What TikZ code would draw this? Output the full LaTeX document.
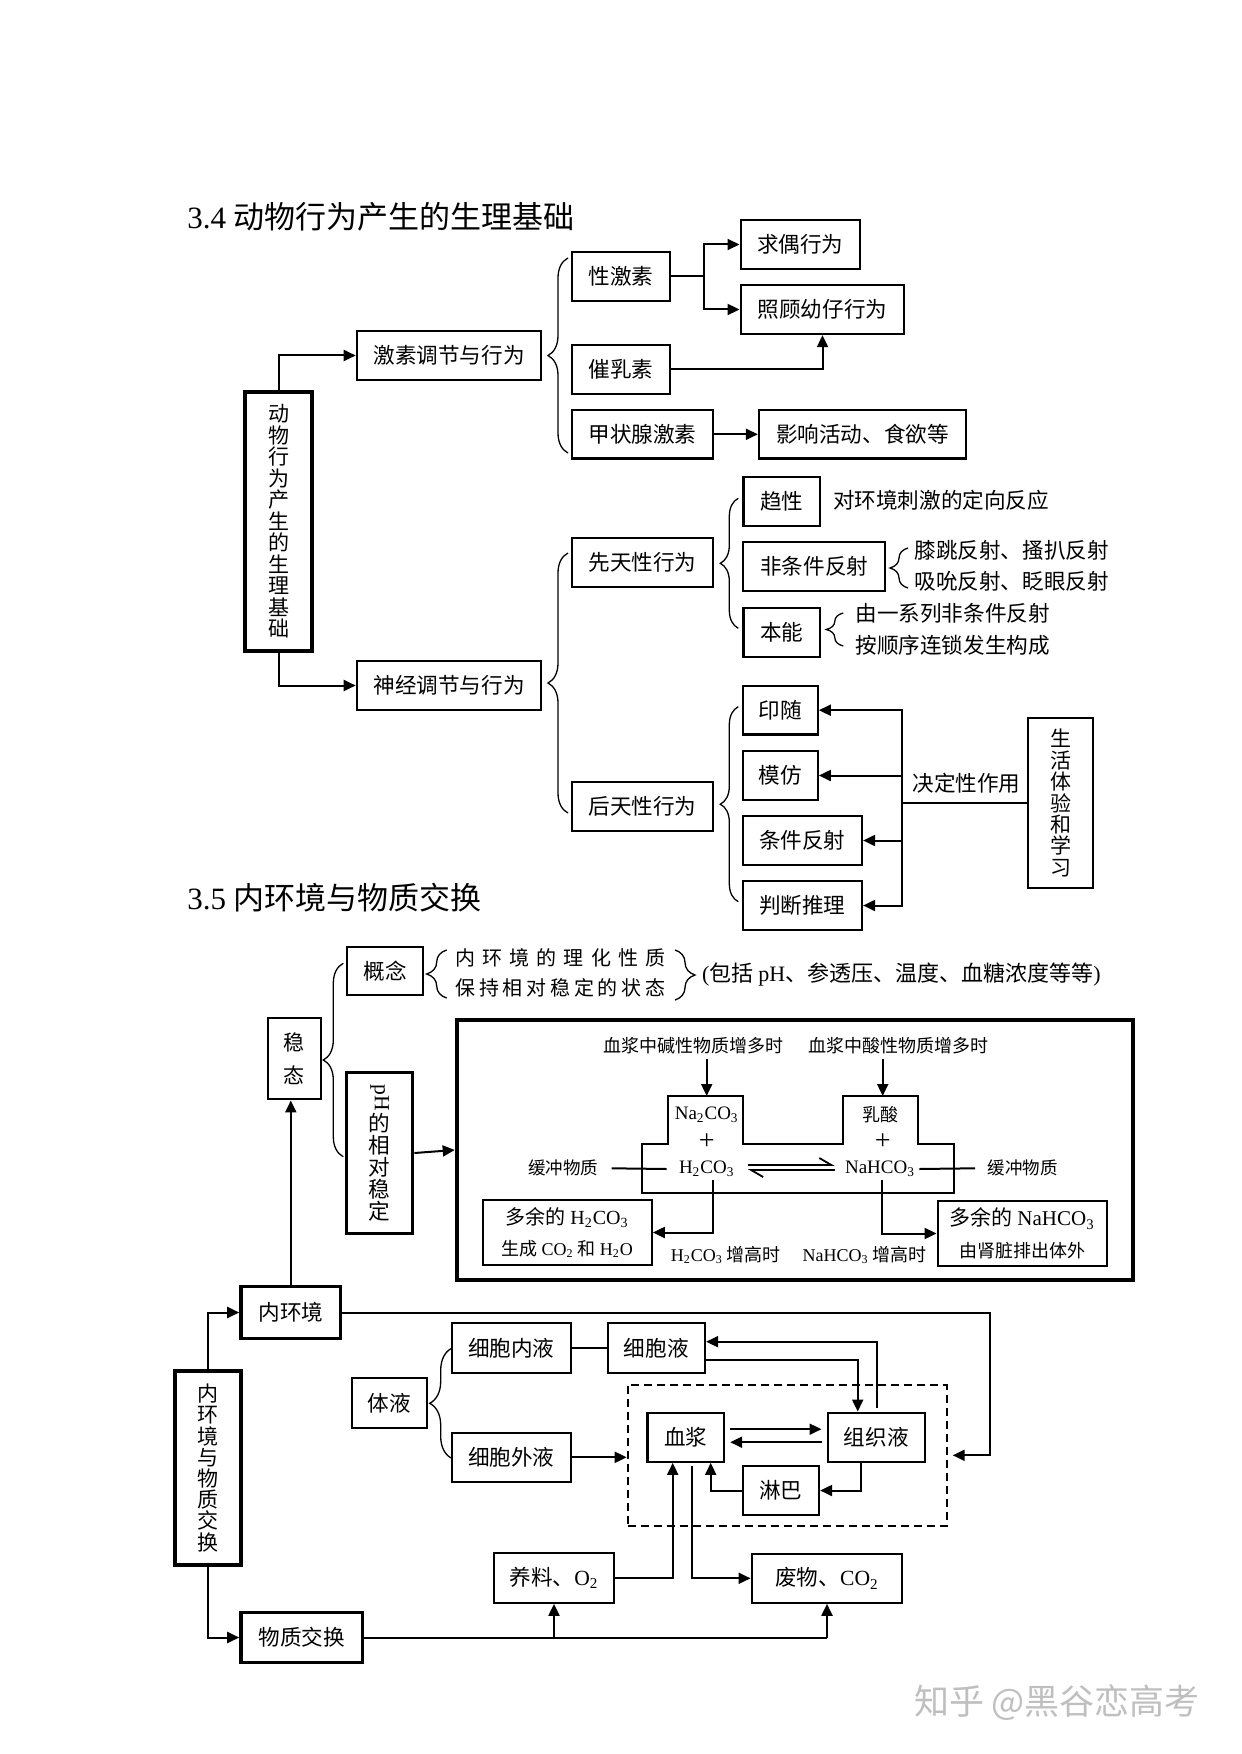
\documentclass[tikz,border=0pt]{standalone}
\usepackage{fontspec}
\setmainfont{Noto Sans CJK SC}
\newfontfamily\tm{Liberation Serif}
\usepackage{graphicx}
\usetikzlibrary{arrows.meta,calc,decorations.pathreplacing}
\newcommand\fsz[1]{\fontsize{#1}{#1}\selectfont}
\newcommand\hcot{{\tm H\textsubscript{2}CO\textsubscript{3}}}
\newcommand\nahcot{{\tm NaHCO\textsubscript{3}}}
\newcommand\nacot{{\tm Na\textsubscript{2}CO\textsubscript{3}}}
\newcommand\cotwo{{\tm CO\textsubscript{2}}}
\newcommand\htwoo{{\tm H\textsubscript{2}O}}
\newcommand\otwo{{\tm O\textsubscript{2}}}
\tikzset{
 box/.style={draw, line width=1.15pt, inner sep=0pt, font=\fsz{10.8}},
 tbox/.style={box, line width=1.75pt},
 wh/.style 2 args={minimum width=#1*0.5pt, minimum height=#2*0.5pt},
 arr/.style={line width=1pt, -{Triangle[length=6pt,width=5.5pt]}},
 ln/.style={line width=1pt},
 cbrace/.style={decorate, decoration={brace, amplitude=#1}, line width=0.65pt},
 txt/.style={inner sep=0pt, font=\fsz{10.8}},
 harp/.style={line width=0.9pt, -{Straight Barb[harpoon,length=6pt,width=7pt]}},
}
\begin{document}
\begin{tikzpicture}[x=0.5pt,y=-0.5pt]
\fill[white] (0,0) rectangle (1241,1754);
\useasboundingbox (0,0) rectangle (1241,1754);

% ---------- 3.4 ----------
\node[anchor=west, inner sep=0pt, font=\fsz{15.5}] (t34) at (187,217) {{\tm 3.4} 动物行为产生的生理基础};

\node[tbox, wh={67}{259}, align=center, font=\fontsize{10.5}{10.75}\selectfont] (root) at (278.5,521.5) {动\\物\\行\\为\\产\\生\\的\\生\\理\\基\\础};
\node[box, wh={184.3}{49}] (horm) at (449,355.5) {激素调节与行为};
\node[box, wh={184.3}{49}] (nerve) at (449,685.5) {神经调节与行为};
\node[box, wh={98.3}{49}] (sexh) at (620.8,276.2) {性激素};
\node[box, wh={98.3}{49}] (prol) at (620.8,369.5) {催乳素};
\node[box, wh={141.6}{48.7}] (thyr) at (642.5,434.3) {甲状腺激素};
\node[box, wh={119.3}{49}] (court) at (800.3,244.5) {求偶行为};
\node[box, wh={163.6}{49}] (care) at (822.5,309.5) {照顾幼仔行为};
\node[box, wh={207}{48.7}] (affect) at (862.5,434.3) {影响活动、食欲等};
\node[box, wh={141.6}{49}] (innate) at (642.5,562.5) {先天性行为};
\node[box, wh={141.6}{49.3}] (learn) at (642.5,806.3) {后天性行为};
\node[box, wh={76.7}{49.3}] (taxis) at (781.7,501.3) {趋性};
\node[box, wh={142}{49}] (uncond) at (814.3,566.2) {非条件反射};
\node[box, wh={76.7}{49}] (inst) at (781.7,632.2) {本能};
\node[box, wh={75}{48.3}] (impr) at (780.2,710.2) {印随};
\node[box, wh={75}{49}] (imit) at (780.2,775.5) {模仿};
\node[box, wh={119.3}{49}] (cond) at (802.3,840.5) {条件反射};
\node[box, wh={119.3}{49}] (judg) at (802.3,905.5) {判断推理};
\node[box, wh={65}{170.6}, align=center, font=\fontsize{10.5}{10.7}\selectfont] (life) at (1060.8,803) {生\\活\\体\\验\\和\\学\\习};

\node[txt, anchor=west] (taxd) at (832.7,500) {对环境刺激的定向反应};
\node[txt, anchor=west] (ur1) at (914,550) {膝跳反射、搔扒反射};
\node[txt, anchor=west] (ur2) at (914,581.7) {吸吮反射、眨眼反射};
\node[txt, anchor=west] (in1) at (855,613.3) {由一系列非条件反射};
\node[txt, anchor=west] (in2) at (855,645) {按顺序连锁发生构成};
\node[txt] (decis) at (966.5,783.3) {决定性作用};

\draw[cbrace=10pt] (568,453) -- (568,258);
\draw[cbrace=10pt] (568,813) -- (568,553);
\draw[cbrace=9pt] (738.3,628.3) -- (738.3,498.3);
\draw[cbrace=9pt] (738.3,901.7) -- (738.3,706.7);
\draw[cbrace=9pt] (908,588) -- (908,548);
\draw[cbrace=8.5pt] (843.3,646) -- (843.3,613);

\draw[arr] (root.north) |- (horm.west);
\draw[arr] (root.south) |- (nerve.west);
\draw[arr] (sexh.east) -- ++(33.3,0) |- (court.west);
\draw[arr] (sexh.east) ++(33.3,0) |- (care.west);
\draw[arr] (prol.east) -| (care.south);
\draw[arr] (thyr.east) -- (affect.west);
\coordinate (jx) at (901.7,803);
\draw[ln] (life.west) -- (jx);
\draw[arr] (jx) |- (impr.east);
\draw[arr] (jx) |- (imit.east);
\draw[arr] (jx) |- (cond.east);
\draw[arr] (jx) |- (judg.east);

% ---------- 3.5 ----------
\node[anchor=west, inner sep=0pt, font=\fsz{15.5}] (t35) at (187,898) {{\tm 3.5} 内环境与物质交换};

\node[box, wh={76.6}{48.3}] (conc) at (385,970.8) {概念};
\draw[cbrace=10pt] (446.7,998) -- (446.7,950);
\node[txt, anchor=west, font=\fsz{10}] (cl1) at (455,958.3) {\makebox[105pt][s]{内\hfill 环\hfill 境\hfill 的\hfill 理\hfill 化\hfill 性\hfill 质}};
\node[txt, anchor=west, font=\fsz{10}] (cl2) at (455,988.3) {\makebox[105pt][s]{保\hfill 持\hfill 相\hfill 对\hfill 稳\hfill 定\hfill 的\hfill 状\hfill 态}};
\draw[cbrace=10pt] (675,950) -- (675,1000);
\node[txt, anchor=west, font=\fsz{11}] (incl) at (701.7,975) {{\tm (}包括 {\tm pH}、参透压、温度、血糖浓度等等{\tm )}};

\node[box, wh={53.3}{81.6}, align=center, font=\fontsize{10.5}{16.6}\selectfont] (stead) at (294.3,1058.5) {稳\\态};
\draw[cbrace=10pt] (343.3,1156.7) -- (343.3,963.3);
\node[tbox, wh={66}{160.6}, align=center, font=\fontsize{10.8}{11}\selectfont] (ph) at (379.7,1153) {\rotatebox{-90}{\tm pH}\\的\\相\\对\\稳\\定};

\node[draw, line width=2pt, wh={676.6}{260}, inner sep=0pt] (big) at (795,1150) {};
\draw[arr] (ph.east) -- (big.west);

\node[txt, font=\fsz{9}] (alk) at (693.3,1046) {血浆中碱性物质增多时};
\node[txt, font=\fsz{9}] (acid) at (898.3,1046) {血浆中酸性物质增多时};
\node[txt, font=\fsz{9.5}] (naco) at (706.7,1115) {\nacot};
\node[txt, font=\fsz{14}] (pl1) at (706.7,1141.7) {\tm +};
\node[txt, font=\fsz{9.5}] (hco) at (706.7,1169) {\hcot};
\node[txt, font=\fsz{9}] (lact) at (880,1115) {乳酸};
\node[txt, font=\fsz{14}] (pl2) at (882.7,1141.7) {\tm +};
\node[txt, font=\fsz{9.5}] (nahco) at (880,1169) {\nahcot};
\node[txt, font=\fsz{8.75}] (bufl) at (563.3,1168.3) {缓冲物质};
\node[txt, font=\fsz{8.75}] (bufr) at (1022.5,1168.3) {缓冲物质};

\draw[ln] (641.7,1193.3) -- (641.7,1144.3) -- (668.3,1144.3) -- (668.3,1096) -- (743.3,1096) -- (743.3,1144.3) -- (843.3,1144.3) -- (843.3,1096) -- (917.7,1096) -- (917.7,1144.3) -- (954,1144.3) -- (954,1193.3) -- cycle;
\coordinate (tabL) at (706.7,1096);
\coordinate (tabR) at (882.7,1096);
\draw[arr] ($(alk.south -| tabL)+(0,4)$) -- (tabL);
\draw[arr] ($(acid.south -| tabR)+(0,4)$) -- (tabR);
\draw[ln] ($(bufl.east)+(13,0)$) -- ($(hco.west)+(-12,0)$);
\draw[ln] ($(nahco.east)+(4,0)$) -- ($(bufr.west)+(-12,0)$);
\draw[harp] ($(hco.east)+(13,-4)$) -- ($(nahco.west)+(-10,-4)$);
\draw[harp] ($(nahco.west)+(-10,1)$) -- ($(hco.east)+(13,1)$);

\node[box, wh={169}{65}, align=center, font=\fontsize{10}{15.5}\selectfont] (exh) at (567.2,1232.5) {多余的 \hcot\\{\fsz{9}生成 \cotwo{} 和 \htwoo}};
\node[box, wh={169}{65}, align=center, font=\fontsize{10.5}{15.8}\selectfont] (exn) at (1022.2,1233.5) {多余的 \nahcot\\{\fsz{9}由肾脏排出体外}};
\draw[arr] ($(hco.south)+(6,3)$) |- (exh.east);
\draw[arr] ($(nahco.south)+(1.7,3)$) |- (exn.west);
\node[txt, font=\fsz{9}] (hinc) at (725.8,1255) {\hcot{} 增高时};
\node[txt, font=\fsz{9}] (ninc) at (864.7,1255) {\nahcot{} 增高时};

% lower part
\node[tbox, wh={99.7}{51.6}] (inner) at (290.8,1312.5) {内环境};
\draw[arr] (inner.north) -- (inner.north |- stead.south);
\node[tbox, wh={66}{194}, align=center, font=\fontsize{10.5}{10.6}\selectfont] (ie) at (208,1468) {内\\环\\境\\与\\物\\质\\交\\换};
\node[tbox, wh={121.7}{50.4}] (mx) at (301.8,1637.5) {物质交换};
\draw[arr] (ie.north) |- (inner.west);
\draw[arr] (ie.south) |- (mx.west);

\node[box, wh={119.3}{49.4}] (icf) at (511.3,1348) {细胞内液};
\node[box, wh={119.3}{49.3}] (ecf) at (511.3,1457.3) {细胞外液};
\node[box, wh={75}{49.4}] (bf) at (389.2,1403) {体液};
\draw[cbrace=11pt] (451.7,1458.3) -- (451.7,1348.3);
\node[box, wh={97.3}{49.4}] (cyt) at (656.3,1348) {细胞液};
\draw[ln] (icf.east) -- (cyt.west);
\node[draw, dash pattern=on 4pt off 2.5pt, line width=1pt, wh={319}{140.7}, inner sep=0pt] (dash) at (787.2,1455.3) {};
\draw[arr] (ecf.east) -- (ecf.east -| dash.west);
\node[box, wh={76.7}{49}] (plas) at (685.7,1437.2) {血浆};
\node[box, wh={97.3}{49}] (tiss) at (876.3,1437.2) {组织液};
\node[box, wh={76.3}{49}] (lymph) at (780.8,1490.5) {淋巴};

\draw[arr] ($(plas.east)+(5,-8)$) -- ($(tiss.west)+(-5,-8)$);
\draw[arr] ($(tiss.west)+(-5,5)$) -- ($(plas.east)+(5,5)$);
\draw[arr] ($(tiss.south)+(-15.6,0)$) |- (lymph.east);
\draw[arr] (lymph.west) -| ($(plas.south)+(25,0)$);
\draw[arr] ($(cyt.east)+(0,12)$) -| ($(tiss.north)+(-18.6,0)$);
\draw[arr] ($(tiss.north)+(0.4,-4)$) |- ($(cyt.east)+(0,-6.3)$);
\draw[arr, shorten >=2.5pt] (inner.east) -- ++(647.6,0) |- (dash.east);

\node[box, wh={120}{49.4}] (nutr) at (554,1578) {养料、\otwo};
\node[box, wh={150.6}{48.7}] (wast) at (827,1578.3) {废物、\cotwo};
\draw[arr] (nutr.east) -| ($(plas.south)+(-13,0)$);
\draw[arr] ($(plas.south)+(6.6,3)$) |- (wast.west);
\draw[ln] (mx.east) -- (mx.east -| wast.south);
\draw[arr] (mx.east -| nutr.south) -- (nutr.south);
\draw[arr] (mx.east -| wast.south) -- (wast.south);

\node[inner sep=0pt, font=\fsz{17.5}, text=black!25] (wm) at (1057,1703) {知乎 @黑谷恋高考};
\end{tikzpicture}
\end{document}
